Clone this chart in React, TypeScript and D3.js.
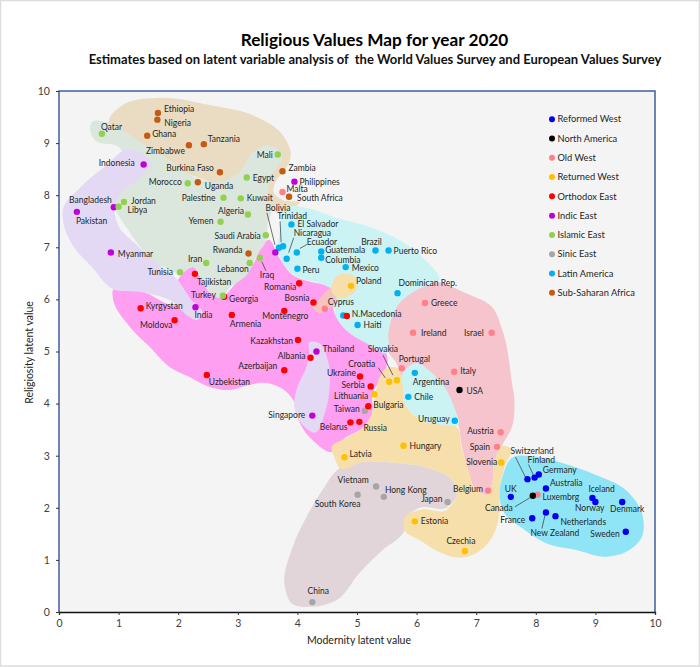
import * as d3 from "d3";
import { useEffect, useRef } from "react";

type Pt = [string, number, number];

const reformedWest: Pt[] = [
  ["Switzerland", 7.86, 2.55], ["Finland", 7.98, 2.58], ["Germany", 8.05, 2.64], ["Australia", 8.17, 2.37],
  ["UK", 7.58, 2.21], ["Iceland", 8.95, 2.19], ["Norway", 9.0, 2.11], ["Denmark", 9.45, 2.11],
  ["France", 7.94, 1.8], ["New Zealand", 8.17, 1.91], ["Netherlands", 8.33, 1.84], ["Sweden", 9.51, 1.54],
];
const northAmerica: Pt[] = [["USA", 6.72, 4.26], ["Canada", 7.95, 2.23]];
const oldWest: Pt[] = [
  ["Malta", 3.75, 8.06], ["Cyprus", 4.46, 5.82], ["Greece", 6.14, 5.93], ["Ireland", 5.94, 5.36],
  ["Israel", 7.26, 5.36], ["Portugal", 5.75, 4.68], ["Italy", 6.63, 4.61], ["Austria", 7.41, 3.45],
  ["Spain", 7.35, 3.17], ["Belgium", 7.2, 2.33], ["Luxembrg", 8.03, 2.25],
];
const returnedWest: Pt[] = [
  ["Poland", 4.9, 6.26], ["Croatia", 5.54, 4.42], ["Slovakia", 5.67, 4.45], ["Lithuania", 5.29, 4.18],
  ["Hungary", 5.78, 3.19], ["Latvia", 4.79, 2.97], ["Estonia", 5.97, 1.74], ["Czechia", 6.81, 1.17],
  ["Slovenia", 7.42, 2.87],
];
const orthodoxEast: Pt[] = [
  ["Georgia", 2.77, 6.05], ["Tajikistan", 2.28, 6.49], ["Kyrgystan", 1.37, 5.83], ["Moldova", 1.94, 5.6],
  ["Armenia", 2.9, 5.7], ["Romania", 4.03, 6.31], ["Bosnia", 4.27, 5.94], ["Montenegro", 3.78, 5.78],
  ["Kazakhstan", 4.01, 5.22], ["Albania", 4.22, 4.88], ["Azerbaijan", 3.78, 4.64], ["Uzbekistan", 2.48, 4.55],
  ["N.Macedonia", 4.83, 5.68], ["Ukraine", 5.05, 4.52], ["Serbia", 5.23, 4.33], ["Bulgaria", 5.19, 3.95],
  ["Belarus", 4.89, 3.64], ["Russia", 5.04, 3.65],
];
const indicEast: Pt[] = [
  ["Indonesia", 1.42, 8.59], ["Philippines", 3.95, 8.26], ["Bangladesh", 0.92, 7.77], ["Pakistan", 0.3, 7.68],
  ["Myanmar", 0.87, 6.9], ["India", 2.29, 5.85], ["", 3.63, 6.9], ["Thailand", 4.32, 5.0], ["Singapore", 4.25, 3.77],
];
const islamicEast: Pt[] = [
  ["Qatar", 0.72, 9.18], ["Mali", 3.67, 8.78], ["Egypt", 3.15, 8.34], ["Morocco", 2.16, 8.23],
  ["Palestine", 2.76, 7.95], ["Kuwait", 3.05, 7.94], ["Jordan", 1.09, 7.87], ["Libya", 1.0, 7.78],
  ["Algeria", 3.17, 7.63], ["Yemen", 2.71, 7.49], ["Saudi Arabia", 3.47, 7.23], ["Iran", 2.47, 6.7],
  ["Lebanon", 3.2, 6.7], ["Iraq", 3.37, 6.8], ["Tunisia", 2.03, 6.52], ["Turkey", 2.75, 6.07],
];
const sinicEast: Pt[] = [
  ["China", 4.25, 0.19], ["Vietnam", 5.32, 2.41], ["South Korea", 5.01, 2.25], ["Hong Kong", 5.45, 2.21],
  ["Japan", 6.52, 2.11], ["Taiwan", 5.13, 3.86],
];
const latinAmerica: Pt[] = [
  ["Bolivia", 3.69, 6.99], ["Trinidad", 3.76, 7.02], ["El Salvador", 3.9, 7.44], ["Nicaragua", 3.82, 6.78],
  ["Ecuador", 3.99, 6.9], ["Guatemala", 4.4, 6.92], ["Columbia", 4.4, 6.8], ["Peru", 4.0, 6.59],
  ["Brazil", 5.31, 6.94], ["Puerto Rico", 5.53, 6.94], ["Mexico", 4.81, 6.62], ["Dominican Rep.", 5.68, 6.12],
  ["", 4.77, 5.69], ["Haiti", 5.01, 5.51], ["Argentina", 5.97, 4.59], ["Chile", 5.86, 4.13], ["Uruguay", 6.64, 3.67],
];
const subSaharanAfrica: Pt[] = [
  ["Ethiopia", 1.66, 9.58], ["Nigeria", 1.65, 9.45], ["Ghana", 1.48, 9.14], ["Zimbabwe", 2.18, 8.96],
  ["Tanzania", 2.43, 8.98], ["Burkina Faso", 2.7, 8.44], ["Uganda", 2.33, 8.25], ["Zambia", 3.75, 8.46],
  ["South Africa", 3.86, 7.97], ["Rwanda", 3.18, 6.88],
];

const legendNames = [
  "Reformed West", "North America", "Old West", "Returned West", "Orthodox East",
  "Indic East", "Islamic East", "Sinic East", "Latin America", "Sub-Saharan Africa",
];
const legendColors = [
  "#0000f0", "#000000", "#ff8088", "#ffc000", "#ff0000",
  "#c000d8", "#92d050", "#a6a6a6", "#00b0f0", "#c55a11",
];

// zone outlines, in the chart's own units
const zoneSubSaharan: [number, number][] = [
  [0.85, 9.48], [1.07, 9.73], [1.69, 9.87], [2.53, 9.73], [3.32, 9.5], [3.75, 9.16], [3.89, 8.77], [3.79, 8.48],
  [3.65, 8.29], [3.6, 8.06], [3.75, 7.91], [4.04, 7.87], [3.75, 7.66], [3.32, 7.87], [2.65, 8.2], [1.52, 8.71], [0.85, 9.16],
];
const zoneOrthodox: [number, number][] = [
  [0.9, 6.16], [1.19, 6.22], [1.98, 5.93], [1.98, 6.33], [2.24, 6.62], [2.48, 6.28], [2.7, 6.03], [2.98, 6.33],
  [3.25, 6.66], [3.42, 7.04], [3.5, 7.14], [3.7, 6.79], [3.92, 6.47], [4.25, 6.33], [4.57, 6.24], [4.62, 5.74],
  [4.82, 5.41], [5.09, 5.22], [5.43, 5.09], [5.51, 4.89], [5.43, 4.51], [5.26, 4.2], [5.26, 3.93], [5.24, 3.72],
  [5.04, 3.49], [4.82, 3.36], [4.57, 3.07], [4.29, 3.26], [4.04, 3.63], [3.95, 4.03], [3.84, 4.2], [3.42, 4.4],
  [3.2, 4.36], [2.86, 4.26], [2.53, 4.32], [2.19, 4.51], [1.86, 4.7], [1.52, 5.09], [1.19, 5.47], [0.9, 6.05],
];
const zoneIslamic: [number, number][] = [
  [0.55, 9.4], [0.8, 9.4], [1.06, 9.25], [1.44, 8.96], [1.81, 8.71], [2.08, 8.48], [2.31, 8.33], [2.58, 8.25],
  [2.81, 8.29], [3.03, 8.45], [3.25, 8.81], [3.48, 8.96], [3.65, 8.91], [3.74, 8.68], [3.62, 8.48], [3.53, 8.25],
  [3.5, 7.95], [3.57, 7.75], [3.5, 7.43], [3.48, 7.14], [3.32, 6.85], [3.15, 6.47], [2.86, 6.22], [2.7, 6.03],
  [2.53, 6.12], [2.41, 6.33], [2.24, 6.62], [2.06, 6.51], [1.69, 6.66], [1.14, 7.37], [0.9, 7.87], [1.11, 8.58],
  [1.02, 8.91], [0.6, 9.06], [0.52, 9.29],
];
const zoneIndicWest: [number, number][] = [
  [1.14, 8.87], [1.39, 8.81], [1.56, 8.58], [1.36, 8.33], [1.06, 8.06], [0.94, 7.81], [0.99, 7.43], [1.31, 7.04],
  [1.69, 6.66], [1.99, 6.37], [2.19, 6.03], [2.41, 5.7], [2.31, 5.6], [2.19, 5.66], [1.91, 5.95], [1.36, 6.14],
  [0.9, 6.2], [0.57, 6.6], [0.23, 7.04], [0.07, 7.49], [0.07, 7.75], [0.35, 8.14], [0.8, 8.58],
];
const zoneIndicEast: [number, number][] = [
  [4.2, 5.18], [4.37, 5.16], [4.51, 4.84], [4.54, 4.32], [4.46, 3.82], [4.29, 3.44], [4.09, 3.59], [3.95, 3.92],
  [4.0, 4.32], [4.15, 4.7], [4.2, 4.97],
];
const zoneOldWest: [number, number][] = [
  [6.38, 6.33], [6.0, 6.22], [5.66, 5.85], [5.53, 5.41], [5.51, 5.03], [5.66, 4.78], [5.8, 4.3], [6.7, 3.59],
  [6.75, 3.24], [6.88, 2.67], [7.0, 2.34], [7.19, 2.25], [7.27, 2.48], [7.3, 2.86], [7.42, 3.17], [7.6, 3.55],
  [7.64, 4.07], [7.6, 4.4], [7.44, 5.41], [7.27, 5.85], [6.83, 6.12], [6.5, 6.28],
];
const zoneLatinNorth: [number, number][] = [
  [3.87, 7.77], [4.17, 7.75], [4.66, 7.56], [5.26, 7.37], [5.71, 7.14], [6.1, 6.81], [6.38, 6.37], [6.0, 6.18],
  [5.66, 5.85], [5.53, 5.41], [5.51, 4.97], [5.16, 5.16], [4.82, 5.41], [4.64, 5.7], [4.59, 6.18], [4.37, 6.31],
  [3.99, 6.43], [3.75, 6.7], [3.67, 6.95], [3.7, 7.27], [3.75, 7.62],
];
const zoneLatinSouth: [number, number][] = [
  [6.0, 4.78], [6.21, 4.64], [6.47, 4.32], [6.63, 3.93], [6.7, 3.59], [6.43, 3.59], [6.05, 3.69], [5.8, 4.01],
  [5.71, 4.32], [5.8, 4.64],
];
const zoneCyprus: [number, number][] = [[4.32, 5.95], [4.57, 6.2], [4.66, 6.03], [4.51, 5.8], [4.37, 5.74], [4.25, 5.89]];
const zonePoland: [number, number][] = [
  [4.59, 6.31], [4.66, 6.45], [4.82, 6.49], [4.99, 6.41], [5.01, 6.24], [4.84, 6.05], [4.67, 6.03], [4.57, 6.18],
];
const zoneReturned: [number, number][] = [
  [5.49, 4.68], [5.68, 4.68], [5.76, 4.4], [5.8, 4.01], [6.05, 3.69], [6.43, 3.59], [6.67, 3.55], [6.75, 3.17],
  [6.88, 2.67], [7.0, 2.34], [7.19, 2.25], [7.27, 2.48], [7.3, 2.86], [7.44, 3.19], [7.57, 3.15], [7.47, 2.76],
  [7.39, 2.34], [7.39, 1.9], [7.27, 1.44], [7.0, 1.13], [6.72, 1.04], [6.38, 1.15], [6.05, 1.38], [5.8, 1.57],
  [5.8, 1.82], [6.05, 1.96], [6.5, 1.96], [6.67, 2.21], [6.6, 2.53], [6.21, 2.76], [5.66, 2.86], [5.09, 2.88],
  [4.71, 2.76], [4.62, 2.98], [4.57, 3.15], [4.82, 3.34], [5.09, 3.53], [5.24, 3.78], [5.29, 4.07], [5.33, 4.32], [5.38, 4.51],
];
const zoneSinic: [number, number][] = [
  [4.71, 2.76], [5.09, 2.88], [5.66, 2.86], [6.21, 2.76], [6.6, 2.53], [6.67, 2.21], [6.5, 2.0], [6.05, 2.0],
  [5.83, 1.82], [5.8, 1.57], [5.43, 1.19], [5.04, 0.75], [4.66, 0.23], [4.25, 0.1], [3.9, 0.17], [3.79, 0.48],
  [3.92, 1.25], [4.15, 1.82], [4.42, 2.34],
];
const zoneReformed: [number, number][] = [
  [7.6, 2.96], [8.01, 2.98], [8.44, 2.86], [9.01, 2.63], [9.51, 2.34], [9.78, 1.9], [9.78, 1.44], [9.51, 1.15],
  [9.18, 1.06], [8.68, 1.19], [8.17, 1.32], [7.77, 1.61], [7.47, 1.9], [7.39, 2.21], [7.44, 2.59],
];

// label placement relative to the point: dx, dy, anchor
const S = "start";
const E = "end";
const M = "middle";
const labelPos: Record<string, [number, number, string]> = {
  Ethiopia: [6, -4, S], Nigeria: [7, 3, S], Ghana: [5, -2, S], Zimbabwe: [-4, 6, E], Tanzania: [4, -5, S],
  "Burkina Faso": [-6, -4, E], Uganda: [7, 4, S], Zambia: [6, -3, S], "South Africa": [8, 1, S], Rwanda: [-6, -3, E],
  Qatar: [-1, -7, S], Mali: [-5, 1, E], Egypt: [6, 1, S], Morocco: [-6, -1, E], Palestine: [-8, 0, E], Kuwait: [6, 0, S],
  Jordan: [7, -1, S], Libya: [9, 3, S], Algeria: [-4, -3, E], Yemen: [-7, -1, E], "Saudi Arabia": [-5, 1, E],
  Iran: [-4, -4, E], Lebanon: [-1, 6, E], Iraq: [0, 17, S], Tunisia: [-7, 0, E], Turkey: [-7, -1, E],
  Indonesia: [-9, -1, E], Philippines: [5, 0, S], Bangladesh: [-2, -7, E], Pakistan: [-1, 9, S], Myanmar: [7, 2, S],
  India: [-1, 8, S], Thailand: [6, -2, S], Singapore: [-7, 0, E],
  Bolivia: [-1, -40, M], Trinidad: [9, -30, M], "El Salvador": [6, 0, S], Nicaragua: [7, -26, S], Ecuador: [10, -10, S],
  Guatemala: [4, -1, S], Columbia: [4, 2, S], Peru: [5, 1, S], Brazil: [-4, -8, M], "Puerto Rico": [5, 1, S], Mexico: [6, 1, S],
  "Dominican Rep.": [1, -10, S], Haiti: [6, 0, S], Argentina: [-2, 9, S], Chile: [6, 0, S], Uruguay: [-5, -2, E],
  Georgia: [5, 2, S], Tajikistan: [2, 8, S], Kyrgystan: [5, -2, S], Moldova: [-2, 5, E], Armenia: [-2, 9, S], Romania: [-3, 4, E],
  Bosnia: [-4, -4, E], Montenegro: [1, 5, M], Kazakhstan: [-5, 1, E], Albania: [-5, -2, E], Azerbaijan: [-7, -4, E],
  Uzbekistan: [2, 7, S], "N.Macedonia": [5, -2, S], Ukraine: [-4, -3, E], Serbia: [-6, -1, E], Bulgaria: [5, -1, S],
  Belarus: [-3, 5, E], Russia: [4, 6, S],
  Poland: [5, -5, S], Croatia: [-14, -18, E], Slovakia: [-14, -31, M], Lithuania: [-6, 2, E], Hungary: [6, 0, S], Latvia: [5, -3, S],
  Estonia: [6, 0, S], Czechia: [-4, -10, M], Slovenia: [-4, 0, E],
  Malta: [4, -3, S], Cyprus: [3, -7, S], Greece: [6, 0, S], Ireland: [8, 0, S], Israel: [-8, 0, E], Portugal: [-3, -9, S],
  Italy: [6, -1, S], Austria: [-7, -1, E], Spain: [-7, 0, E], Belgium: [-5, -1, E], Luxembrg: [5, 2, S],
  USA: [7, 1, S], Canada: [-20, 12, E],
  Switzerland: [-17, -28, S], Finland: [-7, -17, S], Germany: [4, -4, S], Australia: [4, -5, S], UK: [0, -8, M], Iceland: [-4, -9, S],
  Norway: [9, 6, E], Denmark: [5, 7, M], France: [-7, 2, E], "New Zealand": [9, 21, M], Netherlands: [5, 6, S], Sweden: [-6, 2, E],
  China: [6, -11, M], Vietnam: [-23, -6, M], "South Korea": [-20, 9, M], "Hong Kong": [22, -7, M], Japan: [-5, -3, E], Taiwan: [-5, -2, E],
};

// leader lines relative to the point: x1, y1, x2, y2
const leaders: Record<string, [number, number, number, number]> = {
  Bolivia: [-12, -35, -4, -3],
  Trinidad: [-3, -25, -2, -4],
  Nicaragua: [7, -21, 2, -6],
  Ecuador: [10, -8, 3, -4],
  Iraq: [2, 4, 6, 13],
  Croatia: [-11, -14, -4, -4],
  Slovakia: [-14, -25, -4, -5],
  Canada: [-18, 11, -3, 2],
  Switzerland: [-12, -22, -2, -2],
  Finland: [-6, -13, -1, -2],
  "New Zealand": [-1, 3, -4, 16],
};

const W = 700;
const H = 667;

export default function App() {
  const ref = useRef<SVGSVGElement>(null);

  useEffect(() => {
    if (!ref.current) return;
    const el = ref.current;
    d3.select(el).selectAll("*").remove();

    const svg = d3.select(el).attr("viewBox", `0 0 ${W} ${H}`);
    const font = "Lato, 'Open Sans', sans-serif";
    const x = d3.scaleLinear().domain([0, 10]).range([59, 655]);
    const y = d3.scaleLinear().domain([0, 10]).range([612, 91]);

    svg.append("rect").attr("x", 0.5).attr("y", 0.5).attr("width", W - 1).attr("height", H - 1.5).attr("fill", "#fff").attr("stroke", "#dcdcdc").attr("stroke-width", 1.5);

    // Titles
    svg.append("text").attr("x", 374.5).attr("y", 46).attr("text-anchor", "middle").attr("font-size", 17.2).attr("font-weight", 700).attr("font-family", font).attr("fill", "#000").text("Religious Values Map for year 2020");
    svg.append("text").attr("x", 375).attr("y", 64).attr("text-anchor", "middle").attr("font-size", 13).attr("font-weight", 700).attr("font-family", font).attr("fill", "#111").style("white-space", "pre").text("Estimates based on latent variable analysis of  the World Values Survey and European Values Survey");

    // Plot background
    svg.append("rect").attr("x", x(0)).attr("y", y(10)).attr("width", x(10) - x(0)).attr("height", y(0) - y(10)).attr("fill", "#f4f4f4");

    // Zones
    const zoneLine = d3
      .line<[number, number]>()
      .x(d => x(d[0]))
      .y(d => y(d[1]))
      .curve(d3.curveCatmullRomClosed.alpha(1));
    const zones: [[number, number][], string][] = [
      [zoneSubSaharan, "#e9dcc3"],
      [zoneOrthodox, "#fe9ff1"],
      [zoneIslamic, "#dbe7dc"],
      [zoneIndicWest, "#e3d9f4"],
      [zoneIndicEast, "#e3d9f4"],
      [zoneOldWest, "#f6c4cd"],
      [zoneLatinNorth, "#cbf3f3"],
      [zoneLatinSouth, "#cbf3f3"],
      [zoneCyprus, "#f6c4bd"],
      [zonePoland, "#f6dfaa"],
      [zoneSinic, "#e1d5d9"],
      [zoneReturned, "#f6dfaa"],
      [zoneReformed, "#8fe5f6"],
    ];
    svg.append("g").selectAll("path").data(zones).join("path").attr("d", d => zoneLine(d[0])!).attr("fill", d => d[1]);

    // Frame
    svg.append("path").attr("d", `M${x(0)},${y(0)}V${y(10)}H${x(10)}V${y(0)}`).attr("fill", "none").attr("stroke", "#3f5f98").attr("stroke-width", 1.5);

    // Axes
    const tickVals = d3.range(0, 11);
    svg.append("g").attr("transform", `translate(0,${y(0)})`)
      .call(d3.axisBottom(x).tickValues(tickVals).tickFormat(d3.format("d")).tickSize(3))
      .call(g => g.select(".domain").attr("stroke", "#111").attr("stroke-width", 1.3))
      .call(g => g.selectAll("line").attr("stroke", "#333"))
      .call(g => g.selectAll("text").attr("fill", "#404040").attr("font-size", 10.5).attr("font-family", font).attr("dy", "0.9em"));
    svg.append("g").attr("transform", `translate(${x(0)},0)`)
      .call(d3.axisLeft(y).tickValues(tickVals).tickFormat(d3.format("d")).tickSize(3))
      .call(g => g.select(".domain").remove())
      .call(g => g.selectAll("line").attr("stroke", "#333"))
      .call(g => g.selectAll("text").attr("fill", "#404040").attr("font-size", 10.5).attr("font-family", font).attr("dx", "-0.3em"));

    svg.append("text").attr("x", 359).attr("y", 644).attr("text-anchor", "middle").attr("font-size", 10.5).attr("font-family", font).attr("fill", "#222").text("Modernity latent value");
    svg.append("text").attr("transform", `translate(33,${y(5) + 1}) rotate(-90)`).attr("text-anchor", "middle").attr("font-size", 10.5).attr("font-family", font).attr("fill", "#222").text("Religiosity latent value");

    // Points, back to front
    const color = d3.scaleOrdinal<string, string>().domain(legendNames).range(legendColors);
    const groups: [string, Pt[]][] = [
      ["Old West", oldWest],
      ["North America", northAmerica],
      ["Reformed West", reformedWest],
      ["Returned West", returnedWest],
      ["Sinic East", sinicEast],
      ["Latin America", latinAmerica],
      ["Orthodox East", orthodoxEast],
      ["Indic East", indicEast],
      ["Islamic East", islamicEast],
      ["Sub-Saharan Africa", subSaharanAfrica],
    ];
    const points = groups.flatMap(([group, pts]) => pts.map(p => ({ group, name: p[0], vx: p[1], vy: p[2] })));

    const named = points.filter(d => leaders[d.name]);
    svg.append("g").selectAll("line").data(named).join("line")
      .attr("x1", d => x(d.vx) + leaders[d.name][0])
      .attr("y1", d => y(d.vy) + leaders[d.name][1])
      .attr("x2", d => x(d.vx) + leaders[d.name][2])
      .attr("y2", d => y(d.vy) + leaders[d.name][3])
      .attr("stroke", "#333")
      .attr("stroke-width", 0.7);

    svg.append("g").selectAll("circle").data(points).join("circle")
      .attr("cx", d => x(d.vx))
      .attr("cy", d => y(d.vy))
      .attr("r", 3.2)
      .attr("fill", d => color(d.group));

    svg.append("g").selectAll("text").data(points.filter(d => d.name)).join("text")
      .attr("x", d => x(d.vx) + labelPos[d.name][0])
      .attr("y", d => y(d.vy) + labelPos[d.name][1])
      .attr("dy", "0.34em")
      .attr("text-anchor", d => labelPos[d.name][2])
      .attr("font-size", 8.5)
      .attr("font-family", font)
      .attr("fill", "#262626")
      .text(d => d.name);

    // Legend
    const legendY = d3.scalePoint<string>().domain(legendNames).range([119.3, 292.7]);
    const legend = svg.append("g").selectAll("g").data(legendNames).join("g").attr("transform", d => `translate(552,${legendY(d)})`);
    legend.append("circle").attr("r", 3).attr("fill", d => color(d));
    legend.append("text").attr("x", 5.5).attr("dy", "0.34em").attr("font-size", 9.3).attr("font-family", font).attr("fill", "#262626").text(d => d);
  }, []);

  return (
    <>
      <style>{`body{margin:0}`}</style>
      <svg ref={ref} width={W} height={H} style={{ display: "block" }} />
    </>
  );
}
